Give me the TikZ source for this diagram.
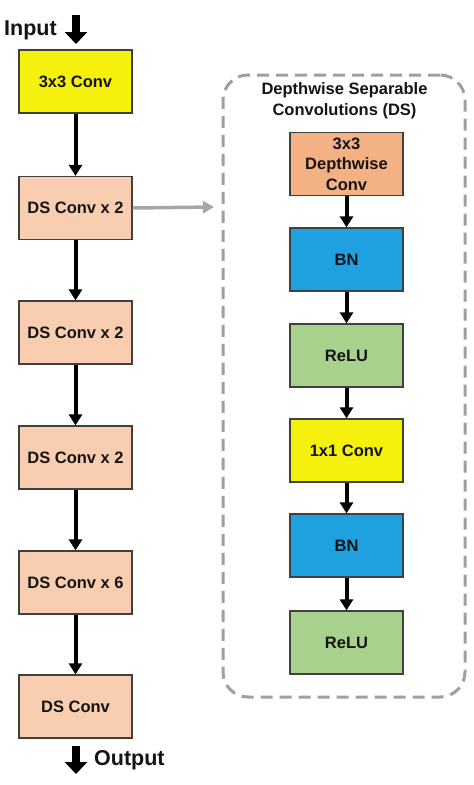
\documentclass[tikz,border=0pt]{standalone}
\usepackage{fontspec}
\setmainfont{Liberation Sans}
\usetikzlibrary{arrows.meta}
\usetikzlibrary{positioning}
\definecolor{convyellow}{RGB}{245,240,12}
\definecolor{dspeach}{RGB}{248,205,176}
\definecolor{dworange}{RGB}{244,177,131}
\definecolor{bnblue}{RGB}{30,160,225}
\definecolor{relugreen}{RGB}{169,209,142}
\definecolor{boxedge}{RGB}{64,64,64}
\definecolor{txt}{RGB}{20,20,20}
\tikzset{
  layer/.style={draw=boxedge, line width=1.3pt, minimum width=113pt, minimum height=63pt,
    inner sep=0pt, align=center, text=txt, font=\bfseries\fontsize{16.5}{20.5}\selectfont},
  flow/.style={line width=4pt, -{Triangle[width=13pt,length=11pt]}},
  fat/.style={line width=8.5pt, -{Triangle[width=22pt,length=12pt]}},
  side/.style={draw=gray!70, line width=3.5pt, -{Triangle[width=12pt,length=11pt]}}
}
\begin{document}
\begin{tikzpicture}[x=1pt,y=-1pt]
		\useasboundingbox (0,0) rectangle (474,785);
		% Main network
		\node[layer, fill=convyellow] (conv) at (75.5,81.5) {3x3 Conv};
		\node[layer, fill=dspeach] (dsa) at (75.5,208) {DS Conv x 2};
		\node[layer, fill=dspeach] (dsb) at (75.5,332.5) {DS Conv x 2};
		\node[layer, fill=dspeach] (dsc) at (75.5,457.5) {DS Conv x 2};
		\node[layer, fill=dspeach] (dsd) at (75.5,582.5) {DS Conv x 6};
		\node[layer, fill=dspeach] (dse) at (75.5,706.5) {DS Conv};
		\foreach \a/\b in {conv/dsa, dsa/dsb, dsb/dsc, dsc/dsd, dsd/dse}
			\draw[flow] (\a.south) -- (\b.north);
		% Input and output
		\node[anchor=base west, inner sep=0pt, text=txt, font=\bfseries\fontsize{21.5}{24}\selectfont] (input) at (4,35) {Input};
		\coordinate (intop) at (76,15);
		\coordinate (inend) at (76,44);
		\draw[fat] (intop) -- (inend);
		\node[anchor=base west, inner sep=0pt, text=txt, font=\bfseries\fontsize{21.5}{24}\selectfont] (output) at (94,765) {Output};
		\coordinate (outtop) at (76,746);
		\coordinate (outend) at (76,774);
		\draw[fat] (outtop) -- (outend);
		% Depthwise separable block
		\node[draw=gray!75, line width=3pt, dash pattern=on 12pt off 7pt, rounded corners=25pt,
			minimum width=242pt, minimum height=622pt] (dsbox) at (344,386) {};
		\node[align=center, inner sep=0pt, text=txt, font=\bfseries\fontsize{16.5}{21}\selectfont] (title) at (344.5,101)
			{Depthwise Separable\\Convolutions (DS)};
		\node[layer, fill=dworange] (dw) at (346.5,164) {3x3\\Depthwise\\Conv};
		\node[layer, fill=bnblue] (bna) at (346.5,259.5) {BN};
		\node[layer, fill=relugreen] (relua) at (346.5,355.5) {ReLU};
		\node[layer, fill=convyellow] (pw) at (346.5,450.5) {1x1 Conv};
		\node[layer, fill=bnblue] (bnb) at (346.5,545.5) {BN};
		\node[layer, fill=relugreen] (relub) at (346.5,642.5) {ReLU};
		\foreach \a/\b in {dw/bna, bna/relua, relua/pw, pw/bnb, bnb/relub}
			\draw[flow] (\a.south) -- (\b.north);
		% Link to the block
		\coordinate (dsin) at (214,207);
		\draw[side] (dsa.east) -- (dsin);
	\end{tikzpicture}
\end{document}
